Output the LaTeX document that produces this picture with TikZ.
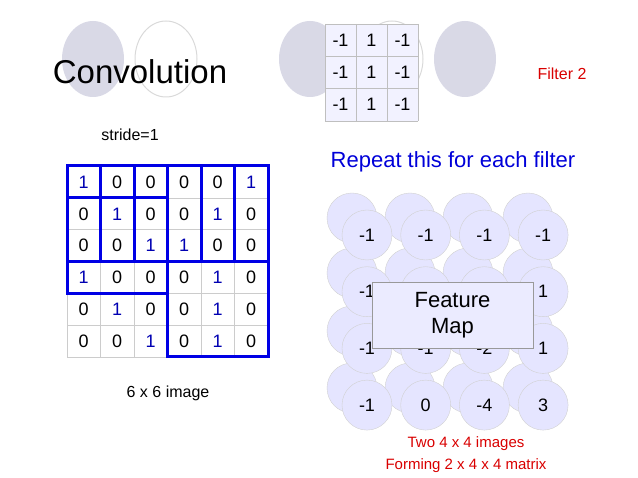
\documentclass[tikz,border=0pt]{standalone}
\usepackage{fontspec}
\setmainfont{Liberation Sans}
\begin{document}
\begin{tikzpicture}[x=1pt,y=-1pt,
  deco/.style={draw=black!15,line width=1pt},
  decofill/.style={fill=blue!20!gray!25,draw=none},
  cell/.style={font=\fontsize{18}{20}\selectfont},
  bl/.style={text=blue!70!black},
  thick blue/.style={draw=blue!90!black,line width=3pt},
  bubble/.style={circle,minimum size=50pt,inner sep=0pt,draw=black!18,fill=blue!10!white,font=\fontsize{18}{20}\selectfont}]
\useasboundingbox (0,0) rectangle (638,478);
% decorative ellipses
\fill[decofill] (93,59) ellipse (31 and 38);
\draw[deco] (166,59) ellipse (31 and 38);
\fill[decofill] (310,59) ellipse (31 and 38);
\draw[deco] (392,59) ellipse (31 and 38);
\fill[decofill] (465,59) ellipse (31 and 38);
\node[font=\fontsize{33}{35}\selectfont] (title) at (140,72) {Convolution};
\node[font=\fontsize{16}{18}\selectfont] (stride) at (130,135) {stride=1};
% filter table
\fill[white!95!blue] (325,24) rectangle (418,121);
\foreach \k in {0,1,2,3} {
  \draw[black!25] (325+31*\k,24) -- (325+31*\k,121);
  \draw[black!25] (325,24+32.33*\k) -- (418,24+32.33*\k);}
\foreach \i in {0,1,2}{
 \foreach \v [count=\j from 0] in {-1,1,-1}{
  \node[cell] (f\i\j) at (340.5+31*\j,40+32.3*\i) {\v};}}
\node[text=red!85!black,font=\fontsize{16}{18}\selectfont] (f2) at (562,74) {Filter 2};
% image grid
\foreach \k in {0,...,6} {
  \draw[black!20] (67+33.5*\k,166) -- (67+33.5*\k,357);
  \draw[black!20] (67,166+31.83*\k) -- (268,166+31.83*\k);}
\foreach \row [count=\i from 0] in {{1,0,0,0,0,1},{0,1,0,0,1,0},{0,0,1,1,0,0},{1,0,0,0,1,0},{0,1,0,0,1,0},{0,0,1,0,1,0}}{
 \foreach \v [count=\j from 0] in \row {
  \ifnum\v=1 \node[cell,bl] (c\i\j) at (83.75+33.5*\j,182+31.83*\i) {1};
  \else \node[cell] (c\i\j) at (83.75+33.5*\j,182+31.83*\i) {0};\fi}}
\draw[thick blue] (67,166) rectangle (268,261.5);
\draw[thick blue] (67,166) rectangle (167.5,293.3);
\draw[thick blue] (167.5,261.5) rectangle (268,357);
\foreach \c in {100.5,134,201,234.5} \draw[thick blue] (\c,166) -- (\c,261.5);
\draw[thick blue] (67,197.8) -- (167.5,197.8);
\node[font=\fontsize{16}{18}\selectfont] (lab) at (168,393) {6 x 6 image};
\node[text=blue!85!black,font=\fontsize{22}{24}\selectfont] (rep) at (453,162) {Repeat this for each filter};
% feature maps
\foreach \i/\y in {0/235,1/290,2/348,3/405}{
 \foreach \j/\x in {0/367,1/425,2/483,3/543}{
  \node[bubble] (b\i\j) at (\x-15,\y-17) {};}}
\foreach \row [count=\i from 0] in {{-1,-1,-1,-1},{-1,-1,-1,1},{-1,-1,-2,1},{-1,0,-4,3}}{
 \foreach \v [count=\j from 0] in \row {
  \node[bubble] (a\i\j) at (367+58.7*\j,235+56.7*\i) {\v};}}
\node[draw=black!40,fill=blue!8!white,minimum width=161pt,minimum height=66pt,align=center,font=\fontsize{22}{26}\selectfont] (fm) at (452.5,315) {Feature\\Map};
\node[text=red!85!black,font=\fontsize{15}{22}\selectfont,align=center] (two) at (466,455) {Two 4 x 4 images\\Forming 2 x 4 x 4 matrix};
\end{tikzpicture}
\end{document}
